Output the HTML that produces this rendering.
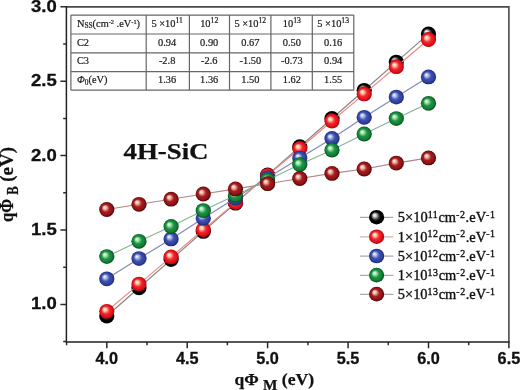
<!DOCTYPE html>
<html><head><meta charset="utf-8"><title>4H-SiC barrier height</title>
<style>
html,body{margin:0;padding:0;background:#fff;}
body{width:520px;height:390px;overflow:hidden;}
svg{display:block;}
.tk{font-family:"Liberation Sans",sans-serif;font-weight:bold;font-size:14px;fill:#111;stroke:#111;stroke-width:0.3px;}
.tb{font-family:"Liberation Serif",serif;font-size:11.3px;fill:#1a1a1a;stroke:#1a1a1a;stroke-width:0.22px;}
.lg{font-family:"Liberation Serif",serif;font-size:14.3px;fill:#111;stroke:#111;stroke-width:0.35px;}
.ti{font-family:"Liberation Serif",serif;font-weight:bold;fill:#111;stroke:#111;stroke-width:0.25px;}
</style></head><body>
<svg width="520" height="390" viewBox="0 0 520 390">
<defs>
<radialGradient id="gk" cx="0.5" cy="0.5" r="0.5" fx="0.34" fy="0.34"><stop offset="0" stop-color="#ffffff"/><stop offset="0.2" stop-color="#d4d4d4"/><stop offset="0.5" stop-color="#343434"/><stop offset="0.66" stop-color="#000000"/><stop offset="1" stop-color="#000000"/></radialGradient>
<radialGradient id="gr" cx="0.5" cy="0.5" r="0.5" fx="0.34" fy="0.34"><stop offset="0" stop-color="#ffffea"/><stop offset="0.22" stop-color="#ffc8a4"/><stop offset="0.52" stop-color="#f22830"/><stop offset="0.8" stop-color="#e30f1b"/><stop offset="1" stop-color="#a80610"/></radialGradient>
<radialGradient id="gb" cx="0.5" cy="0.5" r="0.5" fx="0.34" fy="0.34"><stop offset="0" stop-color="#ffffff"/><stop offset="0.22" stop-color="#b8c0f0"/><stop offset="0.52" stop-color="#3e52b0"/><stop offset="0.8" stop-color="#3041a0"/><stop offset="1" stop-color="#1a2874"/></radialGradient>
<radialGradient id="gg" cx="0.5" cy="0.5" r="0.5" fx="0.34" fy="0.34"><stop offset="0" stop-color="#f8fff0"/><stop offset="0.22" stop-color="#a4e6b0"/><stop offset="0.52" stop-color="#1c9444"/><stop offset="0.8" stop-color="#127e36"/><stop offset="1" stop-color="#054c1e"/></radialGradient>
<radialGradient id="gd" cx="0.5" cy="0.5" r="0.5" fx="0.34" fy="0.34"><stop offset="0" stop-color="#fffaf4"/><stop offset="0.22" stop-color="#f0b8a8"/><stop offset="0.52" stop-color="#a61c1e"/><stop offset="0.8" stop-color="#921316"/><stop offset="1" stop-color="#480507"/></radialGradient>
</defs>
<rect x="0" y="0" width="520" height="390" fill="#fff"/>
<path d="M66.4 6.9H508.9V342.0" fill="none" stroke="#4a4a4a" stroke-width="1.6"/>
<path d="M66.4 6.1000000000000005V342.0H509.7" fill="none" stroke="#222" stroke-width="1.5"/>
<path d="M60.400000000000006 6.8H66.4 M63.2 44.0H66.4 M60.400000000000006 81.2H66.4 M63.2 118.4H66.4 M60.400000000000006 155.6H66.4 M63.2 192.8H66.4 M60.400000000000006 230.0H66.4 M63.2 267.2H66.4 M60.400000000000006 304.4H66.4 M63.2 341.6H66.4 M66.6 342.0V345.2 M106.8 342.0V348.3 M147.0 342.0V345.2 M187.2 342.0V348.3 M227.4 342.0V345.2 M267.6 342.0V348.3 M307.9 342.0V345.2 M348.1 342.0V348.3 M388.3 342.0V345.2 M428.5 342.0V348.3 M468.7 342.0V345.2 M508.9 342.0V348.3" stroke="#2a2a2a" stroke-width="1.5" fill="none"/>
<text class="tk" style="font-size:16.5px" x="31.0" y="11.7" textLength="25.7" lengthAdjust="spacingAndGlyphs">3.0</text>
<text class="tk" style="font-size:16.5px" x="31.0" y="86.1" textLength="25.7" lengthAdjust="spacingAndGlyphs">2.5</text>
<text class="tk" style="font-size:16.5px" x="31.0" y="160.5" textLength="25.7" lengthAdjust="spacingAndGlyphs">2.0</text>
<text class="tk" style="font-size:16.5px" x="31.0" y="234.9" textLength="25.7" lengthAdjust="spacingAndGlyphs">1.5</text>
<text class="tk" style="font-size:16.5px" x="31.0" y="309.3" textLength="25.7" lengthAdjust="spacingAndGlyphs">1.0</text>
<text class="tk" style="font-size:16.2px" x="95.5" y="364.0" textLength="22.6" lengthAdjust="spacingAndGlyphs">4.0</text>
<text class="tk" style="font-size:16.2px" x="175.9" y="364.0" textLength="22.6" lengthAdjust="spacingAndGlyphs">4.5</text>
<text class="tk" style="font-size:16.2px" x="256.3" y="364.0" textLength="22.6" lengthAdjust="spacingAndGlyphs">5.0</text>
<text class="tk" style="font-size:16.2px" x="336.8" y="364.0" textLength="22.6" lengthAdjust="spacingAndGlyphs">5.5</text>
<text class="tk" style="font-size:16.2px" x="417.2" y="364.0" textLength="22.6" lengthAdjust="spacingAndGlyphs">6.0</text>
<text class="tk" style="font-size:16.2px" x="497.6" y="364.0" textLength="22.6" lengthAdjust="spacingAndGlyphs">6.5</text>
<rect x="70.9" y="15.1" width="282.9" height="75.10000000000001" fill="#fff"/>
<path d="M70.9 15.1V90.2 M146.2 15.1V90.2 M189.4 15.1V90.2 M229.5 15.1V90.2 M270.9 15.1V90.2 M312.3 15.1V90.2 M353.8 15.1V90.2 M70.9 15.1H353.8 M70.9 34.0H353.8 M70.9 52.8H353.8 M70.9 71.6H353.8 M70.9 90.2H353.8" stroke="#666" stroke-width="1.2" fill="none"/>
<g transform="translate(76.9 26.5) scale(0.92 1)"><text class="tb" x="0" y="0">N<tspan dy="1.6" font-size="8">SS</tspan><tspan dy="-1.6" font-size="8">&#8203;</tspan>(cm<tspan dy="-2.9" font-size="6.9">-2</tspan><tspan dy="2.9" font-size="6.9">&#8203;</tspan> .eV<tspan dy="-2.9" font-size="6.9">-1</tspan><tspan dy="2.9" font-size="6.9">&#8203;</tspan>)</text></g>
<g transform="translate(167.1 26.5) scale(0.92 1)"><text class="tb" x="0" y="0" text-anchor="middle">5 ×10<tspan dy="-3.9" font-size="8.4">11</tspan><tspan dy="3.9" font-size="8.4">&#8203;</tspan></text></g>
<g transform="translate(209.2 26.5) scale(0.92 1)"><text class="tb" x="0" y="0" text-anchor="middle">10<tspan dy="-3.9" font-size="8.4">12</tspan><tspan dy="3.9" font-size="8.4">&#8203;</tspan></text></g>
<g transform="translate(250.3 26.5) scale(0.92 1)"><text class="tb" x="0" y="0" text-anchor="middle">5 ×10<tspan dy="-3.9" font-size="8.4">12</tspan><tspan dy="3.9" font-size="8.4">&#8203;</tspan></text></g>
<g transform="translate(291.9 26.5) scale(0.92 1)"><text class="tb" x="0" y="0" text-anchor="middle">10<tspan dy="-3.9" font-size="8.4">13</tspan><tspan dy="3.9" font-size="8.4">&#8203;</tspan></text></g>
<g transform="translate(333.2 26.5) scale(0.92 1)"><text class="tb" x="0" y="0" text-anchor="middle">5 ×10<tspan dy="-3.9" font-size="8.4">13</tspan><tspan dy="3.9" font-size="8.4">&#8203;</tspan></text></g>
<g transform="translate(76.9 46.1) scale(0.92 1)"><text class="tb" x="0" y="0">C2</text></g>
<g transform="translate(167.1 46.1) scale(0.92 1)"><text class="tb" x="0" y="0" text-anchor="middle">0.94</text></g>
<g transform="translate(209.2 46.1) scale(0.92 1)"><text class="tb" x="0" y="0" text-anchor="middle">0.90</text></g>
<g transform="translate(250.3 46.1) scale(0.92 1)"><text class="tb" x="0" y="0" text-anchor="middle">0.67</text></g>
<g transform="translate(291.9 46.1) scale(0.92 1)"><text class="tb" x="0" y="0" text-anchor="middle">0.50</text></g>
<g transform="translate(333.2 46.1) scale(0.92 1)"><text class="tb" x="0" y="0" text-anchor="middle">0.16</text></g>
<g transform="translate(76.9 64.3) scale(0.92 1)"><text class="tb" x="0" y="0">C3</text></g>
<g transform="translate(167.1 64.3) scale(0.92 1)"><text class="tb" x="0" y="0" text-anchor="middle">-2.8</text></g>
<g transform="translate(209.2 64.3) scale(0.92 1)"><text class="tb" x="0" y="0" text-anchor="middle">-2.6</text></g>
<g transform="translate(250.3 64.3) scale(0.92 1)"><text class="tb" x="0" y="0" text-anchor="middle">-1.50</text></g>
<g transform="translate(291.9 64.3) scale(0.92 1)"><text class="tb" x="0" y="0" text-anchor="middle">-0.73</text></g>
<g transform="translate(333.2 64.3) scale(0.92 1)"><text class="tb" x="0" y="0" text-anchor="middle">0.94</text></g>
<g transform="translate(76.9 83.4) scale(0.92 1)"><text class="tb" x="0" y="0"><tspan font-style="italic">Φ</tspan><tspan dy="1.6" font-size="8">0</tspan><tspan dy="-1.6" font-size="8">&#8203;</tspan>(eV)</text></g>
<g transform="translate(167.1 83.4) scale(0.92 1)"><text class="tb" x="0" y="0" text-anchor="middle">1.36</text></g>
<g transform="translate(209.2 83.4) scale(0.92 1)"><text class="tb" x="0" y="0" text-anchor="middle">1.36</text></g>
<g transform="translate(250.3 83.4) scale(0.92 1)"><text class="tb" x="0" y="0" text-anchor="middle">1.50</text></g>
<g transform="translate(291.9 83.4) scale(0.92 1)"><text class="tb" x="0" y="0" text-anchor="middle">1.62</text></g>
<g transform="translate(333.2 83.4) scale(0.92 1)"><text class="tb" x="0" y="0" text-anchor="middle">1.55</text></g>
<text class="ti" x="123.5" y="158.9" font-size="23" textLength="85" lengthAdjust="spacingAndGlyphs">4H-SiC</text>
<path d="M106.8 316.0L139.0 287.8L171.1 259.6L203.3 231.4L235.5 203.2L267.6 174.9L299.8 146.7L332.0 118.5L364.2 90.3L396.3 62.1L428.5 33.9" stroke="#8c8080" stroke-width="1.15" fill="none"/>
<ellipse cx="106.8" cy="316.0" rx="7.6" ry="7.4" fill="url(#gk)"/>
<ellipse cx="139.0" cy="287.8" rx="7.6" ry="7.4" fill="url(#gk)"/>
<ellipse cx="171.1" cy="259.6" rx="7.6" ry="7.4" fill="url(#gk)"/>
<ellipse cx="203.3" cy="231.4" rx="7.6" ry="7.4" fill="url(#gk)"/>
<ellipse cx="235.5" cy="203.2" rx="7.6" ry="7.4" fill="url(#gk)"/>
<ellipse cx="267.6" cy="174.9" rx="7.6" ry="7.4" fill="url(#gk)"/>
<ellipse cx="299.8" cy="146.7" rx="7.6" ry="7.4" fill="url(#gk)"/>
<ellipse cx="332.0" cy="118.5" rx="7.6" ry="7.4" fill="url(#gk)"/>
<ellipse cx="364.2" cy="90.3" rx="7.6" ry="7.4" fill="url(#gk)"/>
<ellipse cx="396.3" cy="62.1" rx="7.6" ry="7.4" fill="url(#gk)"/>
<ellipse cx="428.5" cy="33.9" rx="7.6" ry="7.4" fill="url(#gk)"/>
<path d="M106.8 311.3L139.0 284.1L171.1 256.9L203.3 229.8L235.5 202.6L267.6 175.4L299.8 148.5L332.0 121.0L364.2 93.9L396.3 66.7L428.5 39.5" stroke="#e88a84" stroke-width="1.15" fill="none"/>
<ellipse cx="106.8" cy="311.3" rx="7.6" ry="7.4" fill="url(#gr)"/>
<ellipse cx="139.0" cy="284.1" rx="7.6" ry="7.4" fill="url(#gr)"/>
<ellipse cx="171.1" cy="256.9" rx="7.6" ry="7.4" fill="url(#gr)"/>
<ellipse cx="203.3" cy="229.8" rx="7.6" ry="7.4" fill="url(#gr)"/>
<ellipse cx="235.5" cy="202.6" rx="7.6" ry="7.4" fill="url(#gr)"/>
<ellipse cx="267.6" cy="175.4" rx="7.6" ry="7.4" fill="url(#gr)"/>
<ellipse cx="299.8" cy="148.5" rx="7.6" ry="7.4" fill="url(#gr)"/>
<ellipse cx="332.0" cy="121.0" rx="7.6" ry="7.4" fill="url(#gr)"/>
<ellipse cx="364.2" cy="93.9" rx="7.6" ry="7.4" fill="url(#gr)"/>
<ellipse cx="396.3" cy="66.7" rx="7.6" ry="7.4" fill="url(#gr)"/>
<ellipse cx="428.5" cy="39.5" rx="7.6" ry="7.4" fill="url(#gr)"/>
<path d="M106.8 278.8L139.0 258.6L171.1 238.9L203.3 218.2L235.5 198.0L267.6 177.9L299.8 158.1L332.0 138.4L364.2 117.3L396.3 97.1L428.5 76.9" stroke="#8088b6" stroke-width="1.15" fill="none"/>
<ellipse cx="106.8" cy="278.8" rx="7.6" ry="7.4" fill="url(#gb)"/>
<ellipse cx="139.0" cy="258.6" rx="7.6" ry="7.4" fill="url(#gb)"/>
<ellipse cx="171.1" cy="238.9" rx="7.6" ry="7.4" fill="url(#gb)"/>
<ellipse cx="203.3" cy="218.2" rx="7.6" ry="7.4" fill="url(#gb)"/>
<ellipse cx="235.5" cy="198.0" rx="7.6" ry="7.4" fill="url(#gb)"/>
<ellipse cx="267.6" cy="177.9" rx="7.6" ry="7.4" fill="url(#gb)"/>
<ellipse cx="299.8" cy="158.1" rx="7.6" ry="7.4" fill="url(#gb)"/>
<ellipse cx="332.0" cy="138.4" rx="7.6" ry="7.4" fill="url(#gb)"/>
<ellipse cx="364.2" cy="117.3" rx="7.6" ry="7.4" fill="url(#gb)"/>
<ellipse cx="396.3" cy="97.1" rx="7.6" ry="7.4" fill="url(#gb)"/>
<ellipse cx="428.5" cy="76.9" rx="7.6" ry="7.4" fill="url(#gb)"/>
<path d="M106.8 256.6L139.0 241.3L171.1 226.5L203.3 210.6L235.5 195.3L267.6 180.0L299.8 164.6L332.0 150.0L364.2 134.0L396.3 118.6L428.5 103.3" stroke="#86b496" stroke-width="1.15" fill="none"/>
<ellipse cx="106.8" cy="256.6" rx="7.6" ry="7.4" fill="url(#gg)"/>
<ellipse cx="139.0" cy="241.3" rx="7.6" ry="7.4" fill="url(#gg)"/>
<ellipse cx="171.1" cy="226.5" rx="7.6" ry="7.4" fill="url(#gg)"/>
<ellipse cx="203.3" cy="210.6" rx="7.6" ry="7.4" fill="url(#gg)"/>
<ellipse cx="235.5" cy="195.3" rx="7.6" ry="7.4" fill="url(#gg)"/>
<ellipse cx="267.6" cy="180.0" rx="7.6" ry="7.4" fill="url(#gg)"/>
<ellipse cx="299.8" cy="164.6" rx="7.6" ry="7.4" fill="url(#gg)"/>
<ellipse cx="332.0" cy="150.0" rx="7.6" ry="7.4" fill="url(#gg)"/>
<ellipse cx="364.2" cy="134.0" rx="7.6" ry="7.4" fill="url(#gg)"/>
<ellipse cx="396.3" cy="118.6" rx="7.6" ry="7.4" fill="url(#gg)"/>
<ellipse cx="428.5" cy="103.3" rx="7.6" ry="7.4" fill="url(#gg)"/>
<path d="M106.8 209.5L139.0 204.3L171.1 199.2L203.3 194.0L235.5 188.9L267.6 183.7L299.8 178.5L332.0 173.4L364.2 169.0L396.3 163.1L428.5 157.9" stroke="#b48484" stroke-width="1.15" fill="none"/>
<ellipse cx="106.8" cy="209.5" rx="7.6" ry="7.4" fill="url(#gd)"/>
<ellipse cx="139.0" cy="204.3" rx="7.6" ry="7.4" fill="url(#gd)"/>
<ellipse cx="171.1" cy="199.2" rx="7.6" ry="7.4" fill="url(#gd)"/>
<ellipse cx="203.3" cy="194.0" rx="7.6" ry="7.4" fill="url(#gd)"/>
<ellipse cx="235.5" cy="188.9" rx="7.6" ry="7.4" fill="url(#gd)"/>
<ellipse cx="267.6" cy="183.7" rx="7.6" ry="7.4" fill="url(#gd)"/>
<ellipse cx="299.8" cy="178.5" rx="7.6" ry="7.4" fill="url(#gd)"/>
<ellipse cx="332.0" cy="173.4" rx="7.6" ry="7.4" fill="url(#gd)"/>
<ellipse cx="364.2" cy="169.0" rx="7.6" ry="7.4" fill="url(#gd)"/>
<ellipse cx="396.3" cy="163.1" rx="7.6" ry="7.4" fill="url(#gd)"/>
<ellipse cx="428.5" cy="157.9" rx="7.6" ry="7.4" fill="url(#gd)"/>
<path d="M360 217.39999999999998H393.5" stroke="#a8a8a8" stroke-width="1.2" fill="none"/>
<ellipse cx="376.6" cy="217.2" rx="7.6" ry="7.3" fill="url(#gk)"/>
<text class="lg" x="397.8" y="222.4" textLength="97.8" lengthAdjust="spacingAndGlyphs">5×10<tspan dy="-4.7" font-size="9.8" letter-spacing="0.6">11</tspan><tspan dy="4.7" font-size="9.8">&#8203;</tspan>cm<tspan dy="-4.7" font-size="9.8" letter-spacing="0.6">-2</tspan><tspan dy="4.7" font-size="9.8">&#8203;</tspan>.eV<tspan dy="-4.7" font-size="9.8" letter-spacing="0.6">-1</tspan><tspan dy="4.7" font-size="9.8">&#8203;</tspan></text>
<path d="M360 236.89999999999998H393.5" stroke="#dcb0b0" stroke-width="1.2" fill="none"/>
<ellipse cx="376.6" cy="236.7" rx="7.6" ry="7.3" fill="url(#gr)"/>
<text class="lg" x="397.8" y="241.9" textLength="97.8" lengthAdjust="spacingAndGlyphs">1×10<tspan dy="-4.7" font-size="9.8" letter-spacing="0.6">12</tspan><tspan dy="4.7" font-size="9.8">&#8203;</tspan>cm<tspan dy="-4.7" font-size="9.8" letter-spacing="0.6">-2</tspan><tspan dy="4.7" font-size="9.8">&#8203;</tspan>.eV<tspan dy="-4.7" font-size="9.8" letter-spacing="0.6">-1</tspan><tspan dy="4.7" font-size="9.8">&#8203;</tspan></text>
<path d="M360 256.2H393.5" stroke="#a8aab8" stroke-width="1.2" fill="none"/>
<ellipse cx="376.6" cy="256.0" rx="7.6" ry="7.3" fill="url(#gb)"/>
<text class="lg" x="397.8" y="261.2" textLength="97.8" lengthAdjust="spacingAndGlyphs">5×10<tspan dy="-4.7" font-size="9.8" letter-spacing="0.6">12</tspan><tspan dy="4.7" font-size="9.8">&#8203;</tspan>cm<tspan dy="-4.7" font-size="9.8" letter-spacing="0.6">-2</tspan><tspan dy="4.7" font-size="9.8">&#8203;</tspan>.eV<tspan dy="-4.7" font-size="9.8" letter-spacing="0.6">-1</tspan><tspan dy="4.7" font-size="9.8">&#8203;</tspan></text>
<path d="M360 275.3H393.5" stroke="#a8b0aa" stroke-width="1.2" fill="none"/>
<ellipse cx="376.6" cy="275.1" rx="7.6" ry="7.3" fill="url(#gg)"/>
<text class="lg" x="397.8" y="280.3" textLength="97.8" lengthAdjust="spacingAndGlyphs">1×10<tspan dy="-4.7" font-size="9.8" letter-spacing="0.6">13</tspan><tspan dy="4.7" font-size="9.8">&#8203;</tspan>cm<tspan dy="-4.7" font-size="9.8" letter-spacing="0.6">-2</tspan><tspan dy="4.7" font-size="9.8">&#8203;</tspan>.eV<tspan dy="-4.7" font-size="9.8" letter-spacing="0.6">-1</tspan><tspan dy="4.7" font-size="9.8">&#8203;</tspan></text>
<path d="M360 294.3H393.5" stroke="#b0a8a8" stroke-width="1.2" fill="none"/>
<ellipse cx="376.6" cy="294.1" rx="7.6" ry="7.3" fill="url(#gd)"/>
<text class="lg" x="397.8" y="299.3" textLength="97.8" lengthAdjust="spacingAndGlyphs">5×10<tspan dy="-4.7" font-size="9.8" letter-spacing="0.6">13</tspan><tspan dy="4.7" font-size="9.8">&#8203;</tspan>cm<tspan dy="-4.7" font-size="9.8" letter-spacing="0.6">-2</tspan><tspan dy="4.7" font-size="9.8">&#8203;</tspan>.eV<tspan dy="-4.7" font-size="9.8" letter-spacing="0.6">-1</tspan><tspan dy="4.7" font-size="9.8">&#8203;</tspan></text>
<text class="ti" x="234.6" y="385.4" font-size="17" textLength="24.2" lengthAdjust="spacingAndGlyphs">qΦ</text>
<text class="ti" x="263.0" y="389.8" font-size="14" textLength="14.4" lengthAdjust="spacingAndGlyphs">M</text>
<text class="ti" x="281.8" y="385.4" font-size="17" textLength="32.4" lengthAdjust="spacingAndGlyphs">(eV)</text>
<g transform="translate(13.1 223) rotate(-90)"><text class="ti" x="1.0" y="0" font-size="19.3" textLength="23.2" lengthAdjust="spacingAndGlyphs">qΦ</text><text class="ti" x="28.2" y="4.7" font-size="16" textLength="8.5" lengthAdjust="spacingAndGlyphs">B</text><text class="ti" x="41.2" y="0" font-size="18.4" textLength="34.8" lengthAdjust="spacingAndGlyphs">(eV)</text></g>
</svg></body></html>
